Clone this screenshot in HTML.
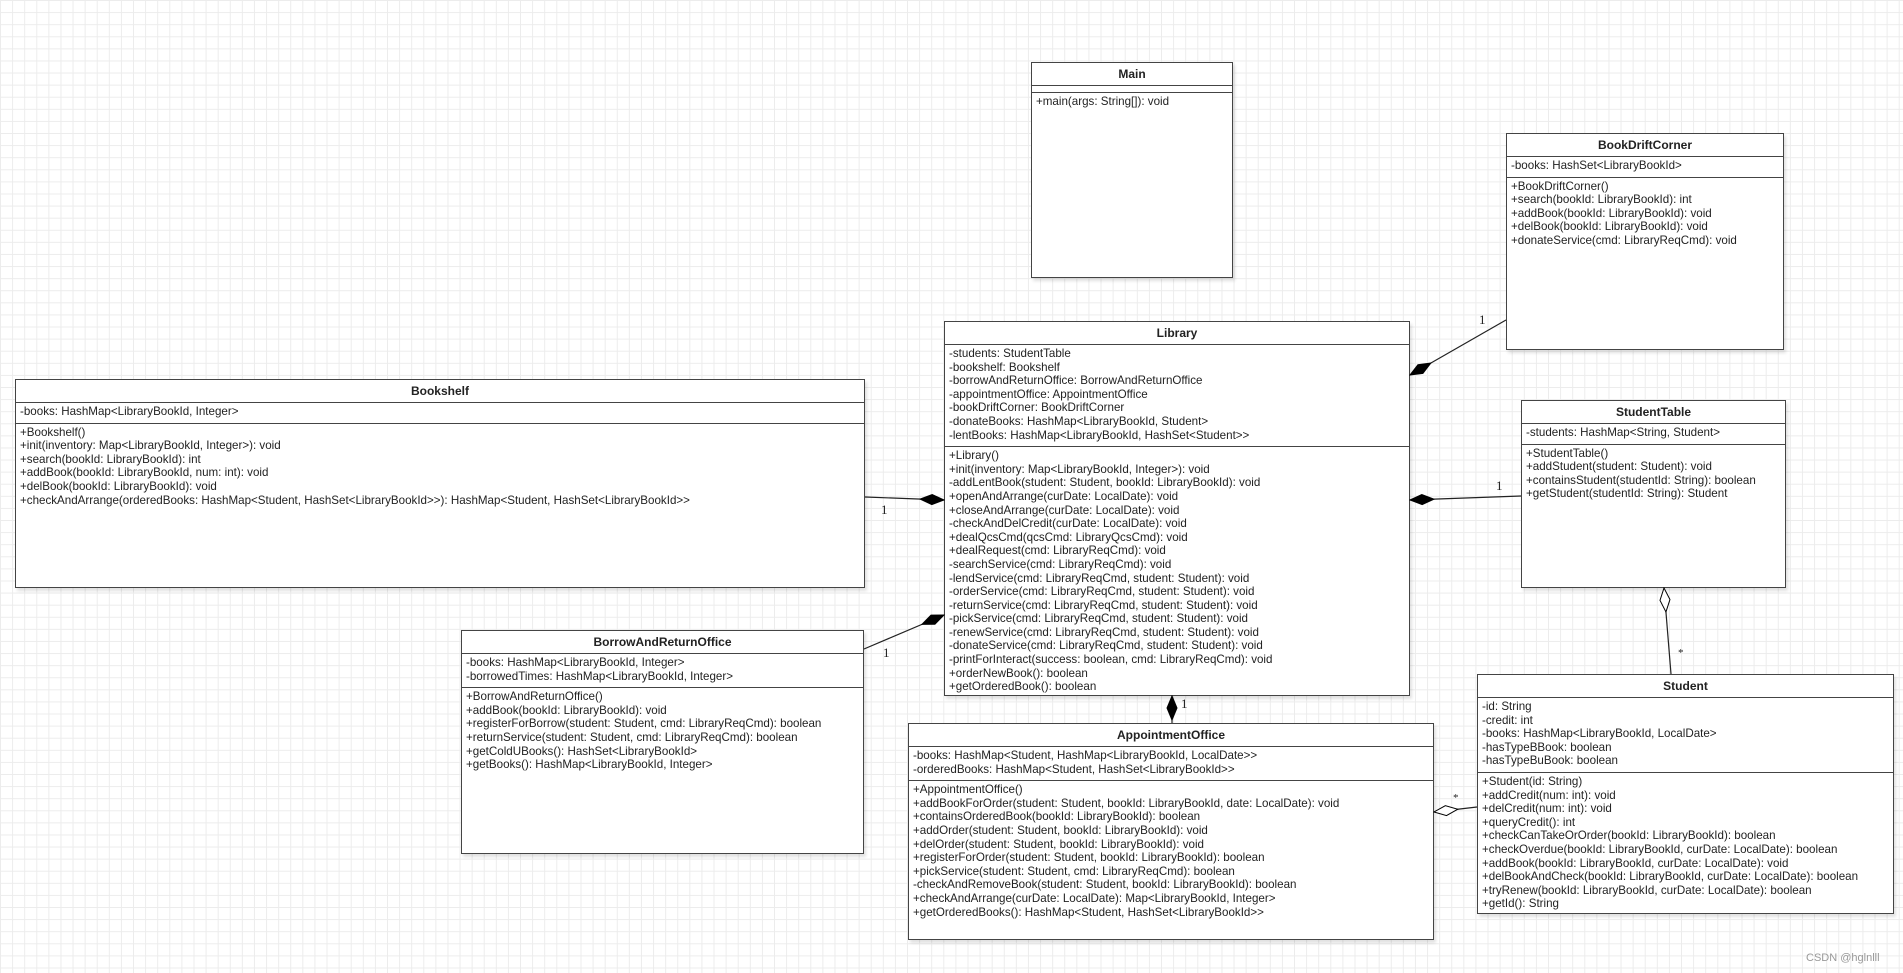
<!DOCTYPE html>
<html><head><meta charset="utf-8"><style>
html,body{margin:0;padding:0}
body{width:1903px;height:973px;position:relative;overflow:hidden;background-color:#fff;
background-image:linear-gradient(#ececec 1px,transparent 1px),linear-gradient(90deg,#ececec 1px,transparent 1px);
background-size:12.1px 12.1px;font-family:"Liberation Sans",Arial,sans-serif;color:#222}
.c{position:absolute;background:#fff;border:1px solid #444;box-shadow:2px 3px 3px rgba(0,0,0,0.12);box-sizing:border-box;font-size:11.6px;line-height:13.6px}
.h{height:22px;line-height:22px;text-align:center;font-weight:bold;border-bottom:1px solid #444;font-size:12px}
.a{border-bottom:1px solid #444;padding:2px 4px 4px 4px;white-space:pre}
.m{padding:2px 4px;white-space:pre}
svg{position:absolute;left:0;top:0}
.lbl{font-family:"Liberation Serif",serif;font-size:13px;fill:#222}
</style></head><body>

<div class="c" style="left:1031px;top:62px;width:202px;height:216px">
<div class="h">Main</div><div class="a" style="height:2px;padding:2px"></div>
<div class="m">+main(args: String[]): void</div></div>

<div class="c" style="left:1506px;top:133px;width:278px;height:217px">
<div class="h">BookDriftCorner</div><div class="a">-books: HashSet&lt;LibraryBookId&gt;</div>
<div class="m">+BookDriftCorner()
+search(bookId: LibraryBookId): int
+addBook(bookId: LibraryBookId): void
+delBook(bookId: LibraryBookId): void
+donateService(cmd: LibraryReqCmd): void</div></div>

<div class="c" style="left:944px;top:321px;width:466px;height:375px">
<div class="h">Library</div><div class="a">-students: StudentTable
-bookshelf: Bookshelf
-borrowAndReturnOffice: BorrowAndReturnOffice
-appointmentOffice: AppointmentOffice
-bookDriftCorner: BookDriftCorner
-donateBooks: HashMap&lt;LibraryBookId, Student&gt;
-lentBooks: HashMap&lt;LibraryBookId, HashSet&lt;Student&gt;&gt;</div>
<div class="m">+Library()
+init(inventory: Map&lt;LibraryBookId, Integer&gt;): void
-addLentBook(student: Student, bookId: LibraryBookId): void
+openAndArrange(curDate: LocalDate): void
+closeAndArrange(curDate: LocalDate): void
-checkAndDelCredit(curDate: LocalDate): void
+dealQcsCmd(qcsCmd: LibraryQcsCmd): void
+dealRequest(cmd: LibraryReqCmd): void
-searchService(cmd: LibraryReqCmd): void
-lendService(cmd: LibraryReqCmd, student: Student): void
-orderService(cmd: LibraryReqCmd, student: Student): void
-returnService(cmd: LibraryReqCmd, student: Student): void
-pickService(cmd: LibraryReqCmd, student: Student): void
-renewService(cmd: LibraryReqCmd, student: Student): void
-donateService(cmd: LibraryReqCmd, student: Student): void
-printForInteract(success: boolean, cmd: LibraryReqCmd): void
+orderNewBook(): boolean
+getOrderedBook(): boolean</div></div>

<div class="c" style="left:15px;top:379px;width:850px;height:209px">
<div class="h">Bookshelf</div><div class="a">-books: HashMap&lt;LibraryBookId, Integer&gt;</div>
<div class="m">+Bookshelf()
+init(inventory: Map&lt;LibraryBookId, Integer&gt;): void
+search(bookId: LibraryBookId): int
+addBook(bookId: LibraryBookId, num: int): void
+delBook(bookId: LibraryBookId): void
+checkAndArrange(orderedBooks: HashMap&lt;Student, HashSet&lt;LibraryBookId&gt;&gt;): HashMap&lt;Student, HashSet&lt;LibraryBookId&gt;&gt;</div></div>

<div class="c" style="left:1521px;top:400px;width:265px;height:188px">
<div class="h">StudentTable</div><div class="a">-students: HashMap&lt;String, Student&gt;</div>
<div class="m">+StudentTable()
+addStudent(student: Student): void
+containsStudent(studentId: String): boolean
+getStudent(studentId: String): Student</div></div>

<div class="c" style="left:461px;top:630px;width:403px;height:224px">
<div class="h">BorrowAndReturnOffice</div><div class="a">-books: HashMap&lt;LibraryBookId, Integer&gt;
-borrowedTimes: HashMap&lt;LibraryBookId, Integer&gt;</div>
<div class="m">+BorrowAndReturnOffice()
+addBook(bookId: LibraryBookId): void
+registerForBorrow(student: Student, cmd: LibraryReqCmd): boolean
+returnService(student: Student, cmd: LibraryReqCmd): boolean
+getColdUBooks(): HashSet&lt;LibraryBookId&gt;
+getBooks(): HashMap&lt;LibraryBookId, Integer&gt;</div></div>

<div class="c" style="left:908px;top:723px;width:526px;height:217px">
<div class="h">AppointmentOffice</div><div class="a">-books: HashMap&lt;Student, HashMap&lt;LibraryBookId, LocalDate&gt;&gt;
-orderedBooks: HashMap&lt;Student, HashSet&lt;LibraryBookId&gt;&gt;</div>
<div class="m">+AppointmentOffice()
+addBookForOrder(student: Student, bookId: LibraryBookId, date: LocalDate): void
+containsOrderedBook(bookId: LibraryBookId): boolean
+addOrder(student: Student, bookId: LibraryBookId): void
+delOrder(student: Student, bookId: LibraryBookId): void
+registerForOrder(student: Student, bookId: LibraryBookId): boolean
+pickService(student: Student, cmd: LibraryReqCmd): boolean
-checkAndRemoveBook(student: Student, bookId: LibraryBookId): boolean
+checkAndArrange(curDate: LocalDate): Map&lt;LibraryBookId, Integer&gt;
+getOrderedBooks(): HashMap&lt;Student, HashSet&lt;LibraryBookId&gt;&gt;</div></div>

<div class="c" style="left:1477px;top:674px;width:417px;height:240px">
<div class="h">Student</div><div class="a">-id: String
-credit: int
-books: HashMap&lt;LibraryBookId, LocalDate&gt;
-hasTypeBBook: boolean
-hasTypeBuBook: boolean</div>
<div class="m">+Student(id: String)
+addCredit(num: int): void
+delCredit(num: int): void
+queryCredit(): int
+checkCanTakeOrOrder(bookId: LibraryBookId): boolean
+checkOverdue(bookId: LibraryBookId, curDate: LocalDate): boolean
+addBook(bookId: LibraryBookId, curDate: LocalDate): void
+delBookAndCheck(bookId: LibraryBookId, curDate: LocalDate): boolean
+tryRenew(bookId: LibraryBookId, curDate: LocalDate): boolean
+getId(): String</div></div>

<svg width="1903" height="973">
<defs>
<marker id="f" viewBox="0 -6 26 12" markerWidth="26" markerHeight="12" refX="25" refY="0" orient="auto" markerUnits="userSpaceOnUse">
<path d="M1,0 L13,-5 L25,0 L13,5 z" fill="#000" stroke="#000"/></marker>
<marker id="o" viewBox="0 -6 26 12" markerWidth="26" markerHeight="12" refX="25" refY="0" orient="auto" markerUnits="userSpaceOnUse">
<path d="M1,0 L13,-5 L25,0 L13,5 z" fill="#fff" stroke="#000"/></marker>
</defs>
<g stroke="#222" stroke-width="1.2" fill="none">
<line x1="865" y1="497" x2="944" y2="500" marker-end="url(#f)"/>
<line x1="864" y1="649" x2="944" y2="615" marker-end="url(#f)"/>
<line x1="1506" y1="320" x2="1410" y2="375" marker-end="url(#f)"/>
<line x1="1521" y1="496" x2="1410" y2="500" marker-end="url(#f)"/>
<line x1="1172" y1="723" x2="1172" y2="696" marker-end="url(#f)"/>
<line x1="1671" y1="674" x2="1664" y2="588" marker-end="url(#o)"/>
<line x1="1477" y1="807" x2="1434" y2="812" marker-end="url(#o)"/>
</g>
<text class="lbl" x="881" y="514">1</text>
<text class="lbl" x="883" y="657">1</text>
<text class="lbl" x="1479" y="324">1</text>
<text class="lbl" x="1496" y="490">1</text>
<text class="lbl" x="1181" y="708">1</text>
<text class="lbl" x="1678" y="656" style="font-size:11px">*</text>
<text class="lbl" x="1453" y="801" style="font-size:11px">*</text>
<text x="1806" y="961" style="font-family:'Liberation Sans',sans-serif;font-size:11px;fill:#999">CSDN @hglnlll</text>
</svg>
</body></html>
